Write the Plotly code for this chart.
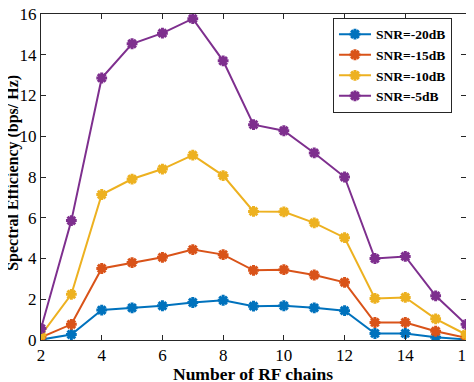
import plotly.graph_objects as go

rf_chains = [2, 3, 4, 5, 6, 7, 8, 9, 10, 11, 12, 13, 14, 15, 16]
snr_m20 = [0.02, 0.27, 1.47, 1.58, 1.68, 1.84, 1.95, 1.66, 1.68, 1.58, 1.44, 0.32, 0.32, 0.13, 0.03]
snr_m15 = [0.13, 0.77, 3.51, 3.80, 4.06, 4.44, 4.19, 3.42, 3.45, 3.19, 2.83, 0.86, 0.86, 0.43, 0.11]
snr_m10 = [0.24, 2.24, 7.14, 7.90, 8.39, 9.07, 8.07, 6.31, 6.29, 5.75, 5.02, 2.04, 2.09, 1.04, 0.27]
snr_m5 = [0.56, 5.86, 12.86, 14.54, 15.06, 15.77, 13.70, 10.57, 10.27, 9.18, 8.00, 4.00, 4.10, 2.17, 0.77]

series = [
    ("SNR=-20dB", snr_m20, "#0072BD"),
    ("SNR=-15dB", snr_m15, "#D95319"),
    ("SNR=-10dB", snr_m10, "#EDB120"),
    ("SNR=-5dB", snr_m5, "#7E2F8E"),
]

font_family = "Liberation Serif"

fig = go.Figure()
for name, vals, col in series:
    fig.add_trace(go.Scatter(
        x=rf_chains, y=vals, name="<b>" + name + "</b>", mode="lines+markers",
        line=dict(color=col, width=2),
        marker=dict(symbol="asterisk-open", size=9, color=col,
                    line=dict(color=col, width=3)),
    ))

axis_common = dict(
    showgrid=False, zeroline=False, showline=True, linecolor="#262626",
    linewidth=1, mirror="ticks", ticks="inside", ticklen=5, tickcolor="#262626",
    tickfont=dict(family=font_family, size=17, color="#000000"),
    ticklabeloverflow="allow", automargin=False,
)

fig.update_layout(
    width=474, height=382,
    margin=dict(l=33, r=16, t=6, b=50),
    paper_bgcolor="white", plot_bgcolor="white",
    font=dict(family=font_family, color="#000000"),
    xaxis=dict(range=[2, 16], tickvals=list(range(2, 17, 2)), **axis_common),
    yaxis=dict(range=[0, 16], tickvals=list(range(0, 17, 2)), **axis_common),
    legend=dict(x=0.687, y=0.988, xanchor="left", yanchor="top",
                bgcolor="white", bordercolor="#262626", borderwidth=1,
                font=dict(family=font_family, size=13.5),
                itemwidth=32, tracegroupgap=0),
    annotations=[
        dict(text="<b>Number of RF chains</b>", xref="paper", yref="paper",
             x=0.499, y=-0.104, xanchor="center", yanchor="middle", showarrow=False,
             font=dict(family=font_family, size=17.5, color="#000000")),
        dict(text="<b>Spectral Efficiency (bps/ Hz)</b>", xref="paper", yref="paper",
             x=-0.065, y=0.514, xanchor="center", yanchor="middle", showarrow=False,
             textangle=-90,
             font=dict(family=font_family, size=16, color="#000000")),
    ],
)
fig.update_xaxes(tickprefix="<b>", ticksuffix="</b>")
fig.update_yaxes(tickprefix="<b>", ticksuffix="</b>")

fig.write_html("out.html")
